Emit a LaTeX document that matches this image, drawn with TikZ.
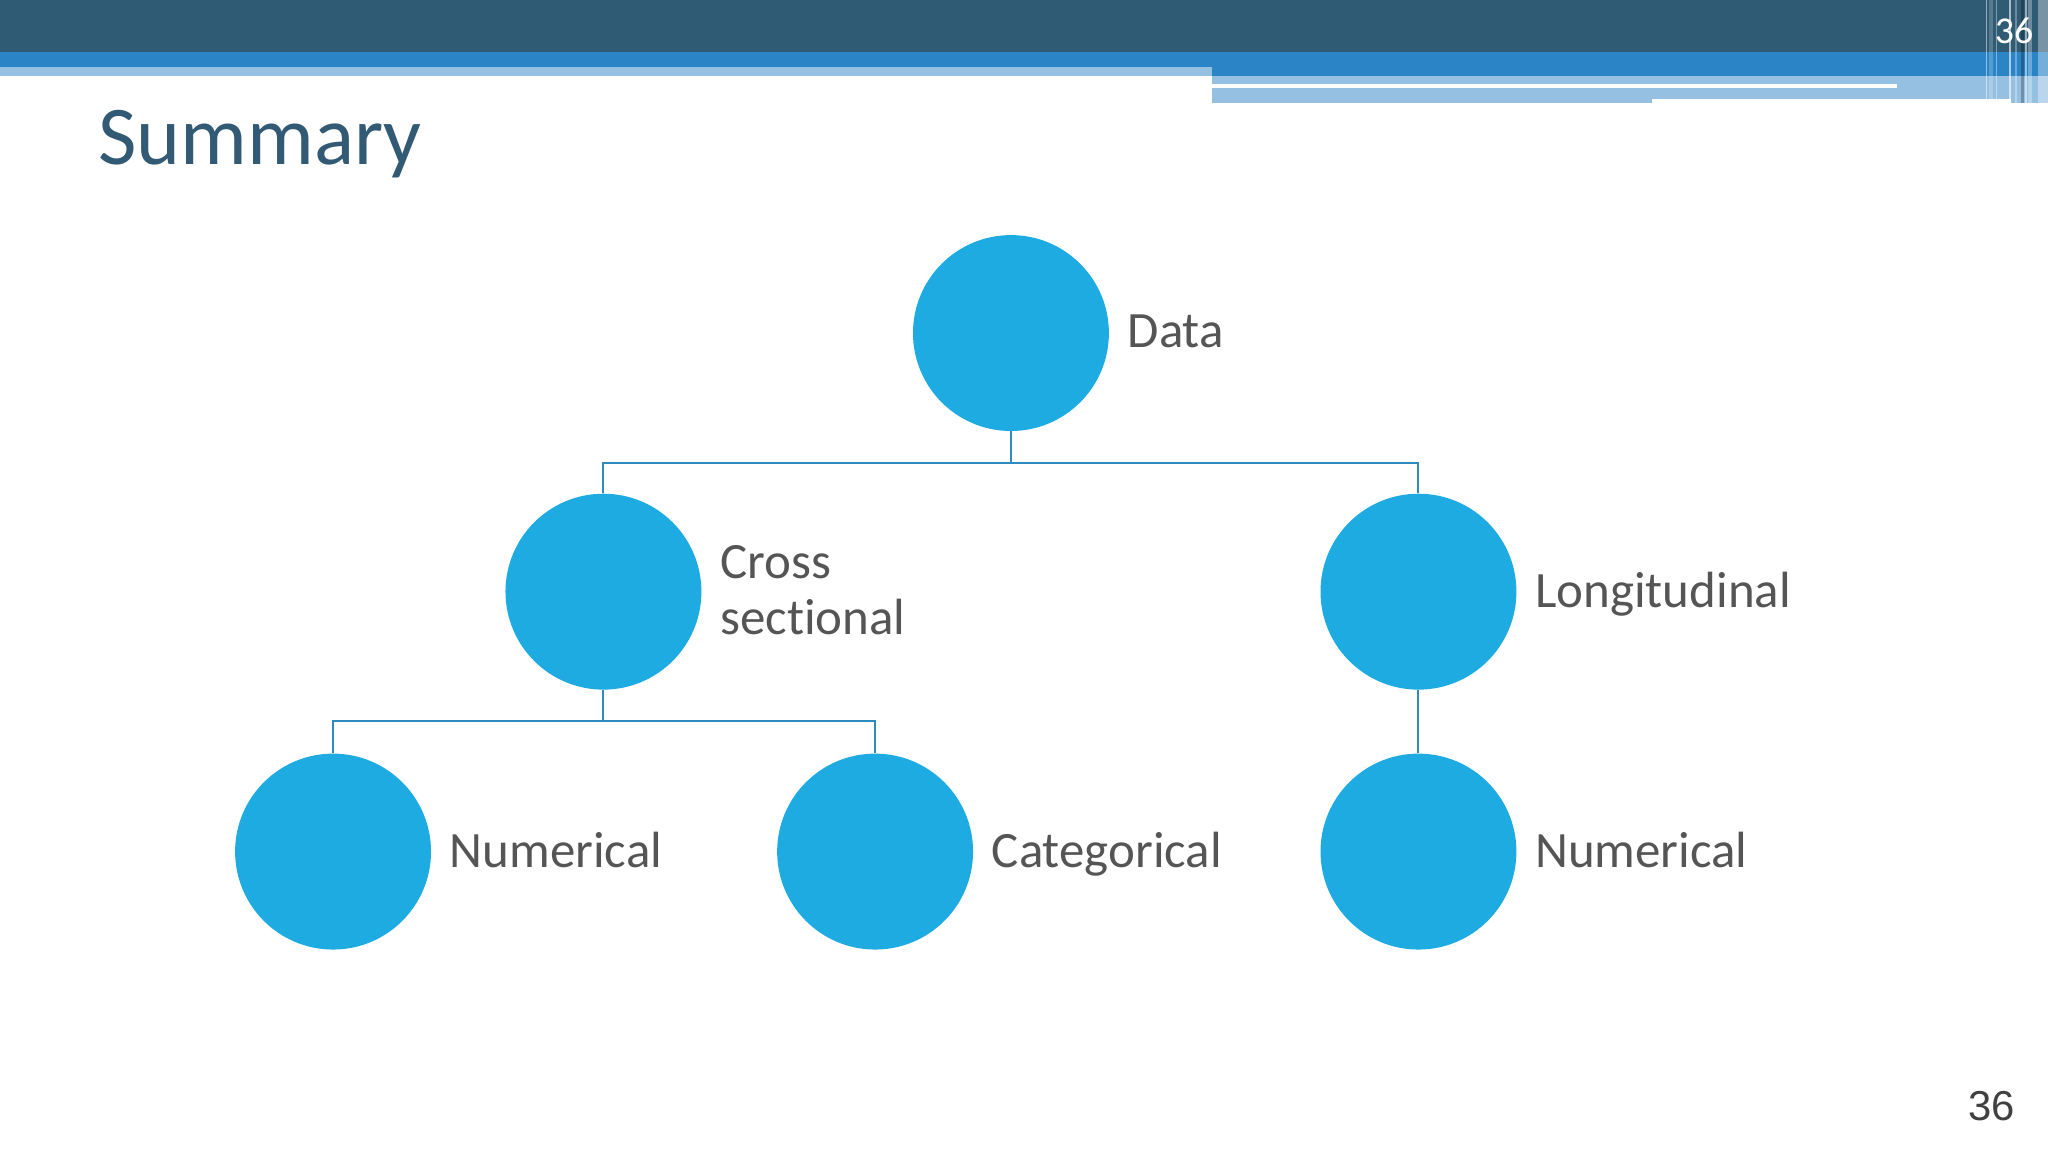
\documentclass[tikz,border=0pt]{standalone}
\usepackage{fontspec}
\setmainfont{Carlito}[Ligatures=NoCommon]
\newfontfamily\numfont{Liberation Sans}

\definecolor{bandDark}{RGB}{48,91,116}
\definecolor{bandMid}{RGB}{42,132,198}
\definecolor{bandLight}{RGB}{150,192,226}
\definecolor{titleBlue}{RGB}{50,90,116}
\definecolor{bubbleBlue}{RGB}{29,171,226}
\definecolor{linkBlue}{RGB}{46,139,192}
\definecolor{labelGray}{RGB}{85,85,85}
\definecolor{pageGray}{RGB}{64,64,64}

\begin{document}
\begin{tikzpicture}[x=1pt,y=-1pt,
  bubble/.style={circle, fill=bubbleBlue, minimum size=150pt, inner sep=0pt},
  lbl/.style={anchor=base west, inner sep=0pt, text=labelGray, font=\fontsize{39}{43}\selectfont},
  link/.style={draw=linkBlue, line width=1.5pt}]
\useasboundingbox (0,0) rectangle (1568,882);
\fill[white] (0,0) rectangle (1568,882);
% header bands
\fill[bandDark] (0,0) rectangle (1568,40);
\fill[bandMid] (0,40) rectangle (1568,51);
\fill[bandMid] (928,51) rectangle (1568,58);
\fill[bandLight] (0,51) rectangle (928,58);
\fill[bandLight] (928,58) rectangle (1568,79);
\fill[white] (928,64) rectangle (1452,67);
\fill[white] (1265,76) rectangle (1540,79);
% stripes at the right end
\foreach \sx/\sw/\sc/\so in {1520.5/0.8/white/0.5, 1523/3/white/0.2, 1528/0.8/white/0.4,
    1538.5/1/white/0.6, 1543/1.2/white/0.3, 1547.5/1.8/black/0.25,
    1550.5/1.3/white/0.5, 1553/2.5/white/0.3, 1560.5/7.5/white/0.35}
  \fill[\sc, opacity=\so] (\sx,0) rectangle ++(\sw,79);
\node[font=\fontsize{29}{29}\selectfont, text=white, anchor=base, inner sep=0pt] (pgtop) at (1542,33) {36};

% title
\node[anchor=base west, inner sep=0pt, text=titleBlue, font=\fontsize{64}{64}\selectfont] (title) at (75,126) {Summary};

% tree
\node[bubble] (data) at (774,255) {};
\node[bubble] (cross) at (462,453) {};
\node[bubble] (longi) at (1086,453) {};
\node[bubble] (numA) at (255,652) {};
\node[bubble] (categ) at (670,652) {};
\node[bubble] (numB) at (1086,652) {};

\draw[link] (data.south) -- ++(0,24) -| (cross.north);
\draw[link] (data.south) -- ++(0,24) -| (longi.north);
\draw[link] (cross.south) -- ++(0,24) -| (numA.north);
\draw[link] (cross.south) -- ++(0,24) -| (categ.north);
\draw[link] (longi.south) -- (numB.north);

\node[lbl] (dataT) at ([xshift=14pt,yshift=-11pt]data.east) {Data};
\node[lbl, align=left] (crossT) at ([xshift=14pt,yshift=-33pt]cross.east) {Cross\\sectional};
\node[lbl] (longiT) at ([xshift=14pt,yshift=-12pt]longi.east) {Longitudinal};
\node[lbl] (numAT) at ([xshift=14pt,yshift=-12pt]numA.east) {Numerical};
\node[lbl] (categT) at ([xshift=14pt,yshift=-12pt]categ.east) {Categorical};
\node[lbl] (numBT) at ([xshift=14pt,yshift=-12pt]numB.east) {Numerical};

% page number
\node[font=\numfont\fontsize{32}{32}\selectfont, text=pageGray, anchor=base east, inner sep=0pt] (pgnum) at (1543,858) {36};
\end{tikzpicture}
\end{document}
